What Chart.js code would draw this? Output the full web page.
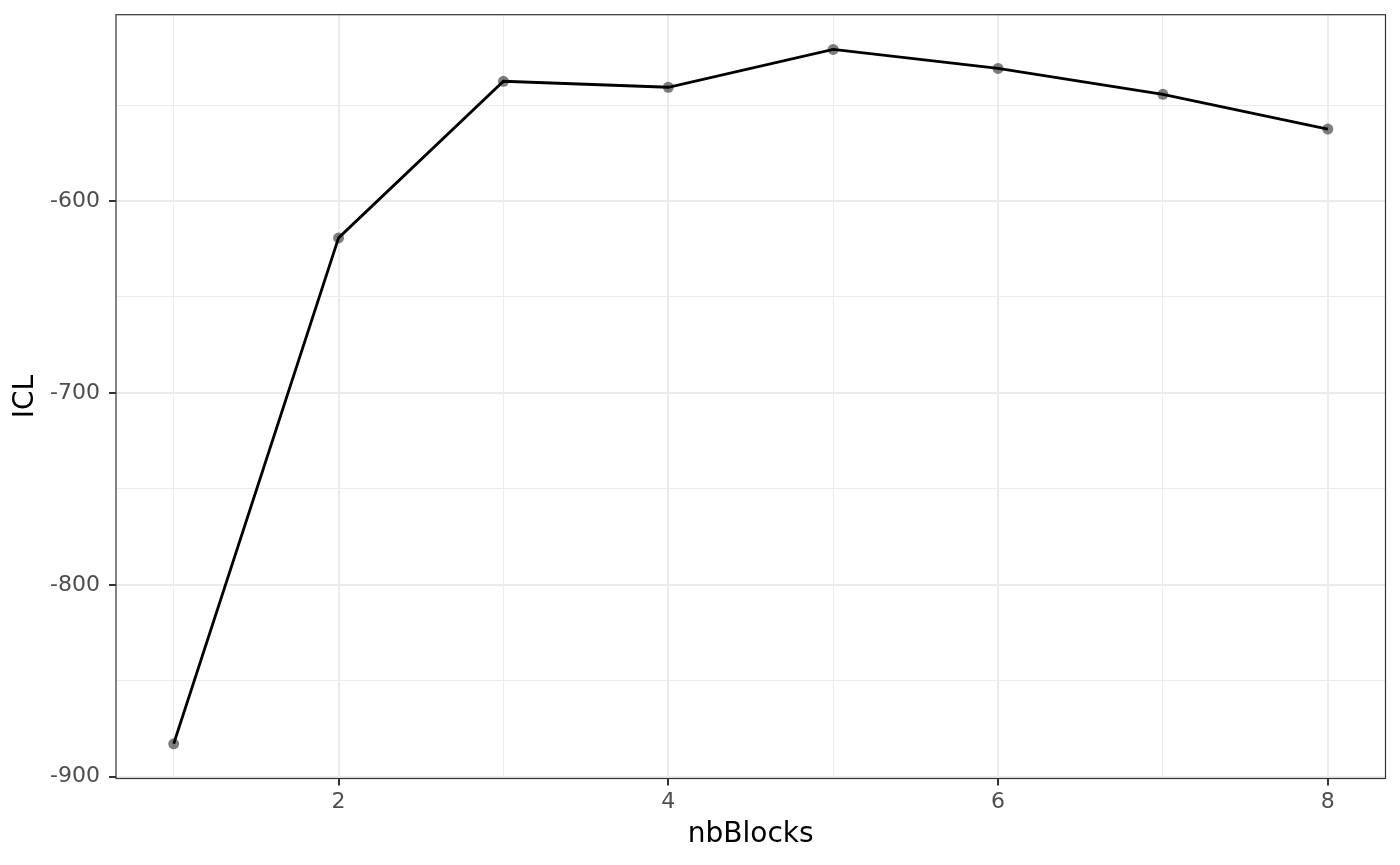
<!DOCTYPE html>
<html>
<head>
<meta charset="utf-8">
<script src="https://cdn.jsdelivr.net/npm/chart.js@4/dist/chart.umd.min.js"></script>
<style>
  html, body { margin: 0; padding: 0; background: #fff; }
  #wrap { width: 1400px; height: 865px; }
</style>
</head>
<body>
<div id="wrap"><canvas id="icl" width="1400" height="865"></canvas></div>
<script>
var nbBlocks = [1, 2, 3, 4, 5, 6, 7, 8];
var icl = [-882.8, -619.2, -537.6, -540.7, -521.0, -530.9, -544.4, -562.5];
var xTicks = [1, 2, 3, 4, 5, 6, 7, 8];
var yTicks = [-900, -850, -800, -750, -700, -650, -600, -550];

var points = nbBlocks.map(function(x, i) { return {x: x, y: icl[i]}; });

function isMajorX(v) { return v % 2 === 0; }
function isMajorY(v) { return v % 100 === 0; }

/* ggplot-like panel border on top of everything */
var panelBorder = {
    id: 'panelBorder',
    afterDraw: function(chart) {
        var a = chart.chartArea, c = chart.ctx;
        c.save();
        c.strokeStyle = '#333333';
        c.lineWidth = 1.2;
        c.strokeRect(a.left, a.top, a.right - a.left, a.bottom - a.top);
        c.restore();
    }
};

var tickFont = {family: 'DejaVu Sans', size: 22};
var titleFont = {family: 'DejaVu Sans', size: 28};

new Chart(document.getElementById('icl').getContext('2d'), {
    type: 'scatter',
    data: {
        datasets: [
            {
                data: points,
                showLine: true,
                borderColor: '#000000',
                borderWidth: 2.8,
                pointRadius: 0,
                order: 0
            },
            {
                data: points,
                showLine: false,
                pointRadius: 5.5,
                pointBackgroundColor: 'rgba(0,0,0,0.5)',
                pointBorderWidth: 0,
                order: 1
            }
        ]
    },
    options: {
        responsive: false,
        animation: false,
        devicePixelRatio: 1,
        layout: {padding: {top: 14.7, right: 14.5, left: 0, bottom: 0}},
        plugins: {legend: {display: false}, tooltip: {enabled: false}},
        scales: {
            x: {
                type: 'linear',
                min: 0.65,
                max: 8.35,
                afterBuildTicks: function(s) { s.ticks = xTicks.map(function(v) { return {value: v}; }); },
                afterFit: function(s) { s.height = 86.5; s.paddingLeft = 0; s.paddingRight = 0; },
                border: {display: false},
                grid: {
                    color: '#ebebeb',
                    lineWidth: function(ctx) { return isMajorX(ctx.tick.value) ? 2 : 1; },
                    tickColor: function(ctx) { return isMajorX(ctx.tick.value) ? '#333333' : 'rgba(0,0,0,0)'; },
                    tickLength: 7,
                    tickWidth: 2
                },
                ticks: {
                    autoSkip: false,
                    maxRotation: 0,
                    color: '#4d4d4d',
                    font: tickFont,
                    padding: 4,
                    callback: function(v) { return isMajorX(v) ? String(v) : ''; }
                },
                title: {display: true, text: 'nbBlocks', color: '#000000', font: titleFont, padding: {bottom: 13}}
            },
            y: {
                type: 'linear',
                min: -900.9,
                max: -502.9,
                afterBuildTicks: function(s) { s.ticks = yTicks.map(function(v) { return {value: v}; }); },
                afterFit: function(s) { s.width = 116; s.paddingTop = 0; s.paddingBottom = 0; },
                border: {display: false},
                grid: {
                    color: '#ebebeb',
                    lineWidth: function(ctx) { return isMajorY(ctx.tick.value) ? 2 : 1; },
                    tickColor: function(ctx) { return isMajorY(ctx.tick.value) ? '#333333' : 'rgba(0,0,0,0)'; },
                    tickLength: 7,
                    tickWidth: 2
                },
                ticks: {
                    autoSkip: false,
                    color: '#4d4d4d',
                    font: tickFont,
                    padding: 9,
                    callback: function(v) { return isMajorY(v) ? String(v) : ''; }
                },
                title: {display: true, text: 'ICL', color: '#000000', font: titleFont, padding: {top: 9}}
            }
        }
    },
    plugins: [panelBorder]
});
</script>
</body>
</html>
